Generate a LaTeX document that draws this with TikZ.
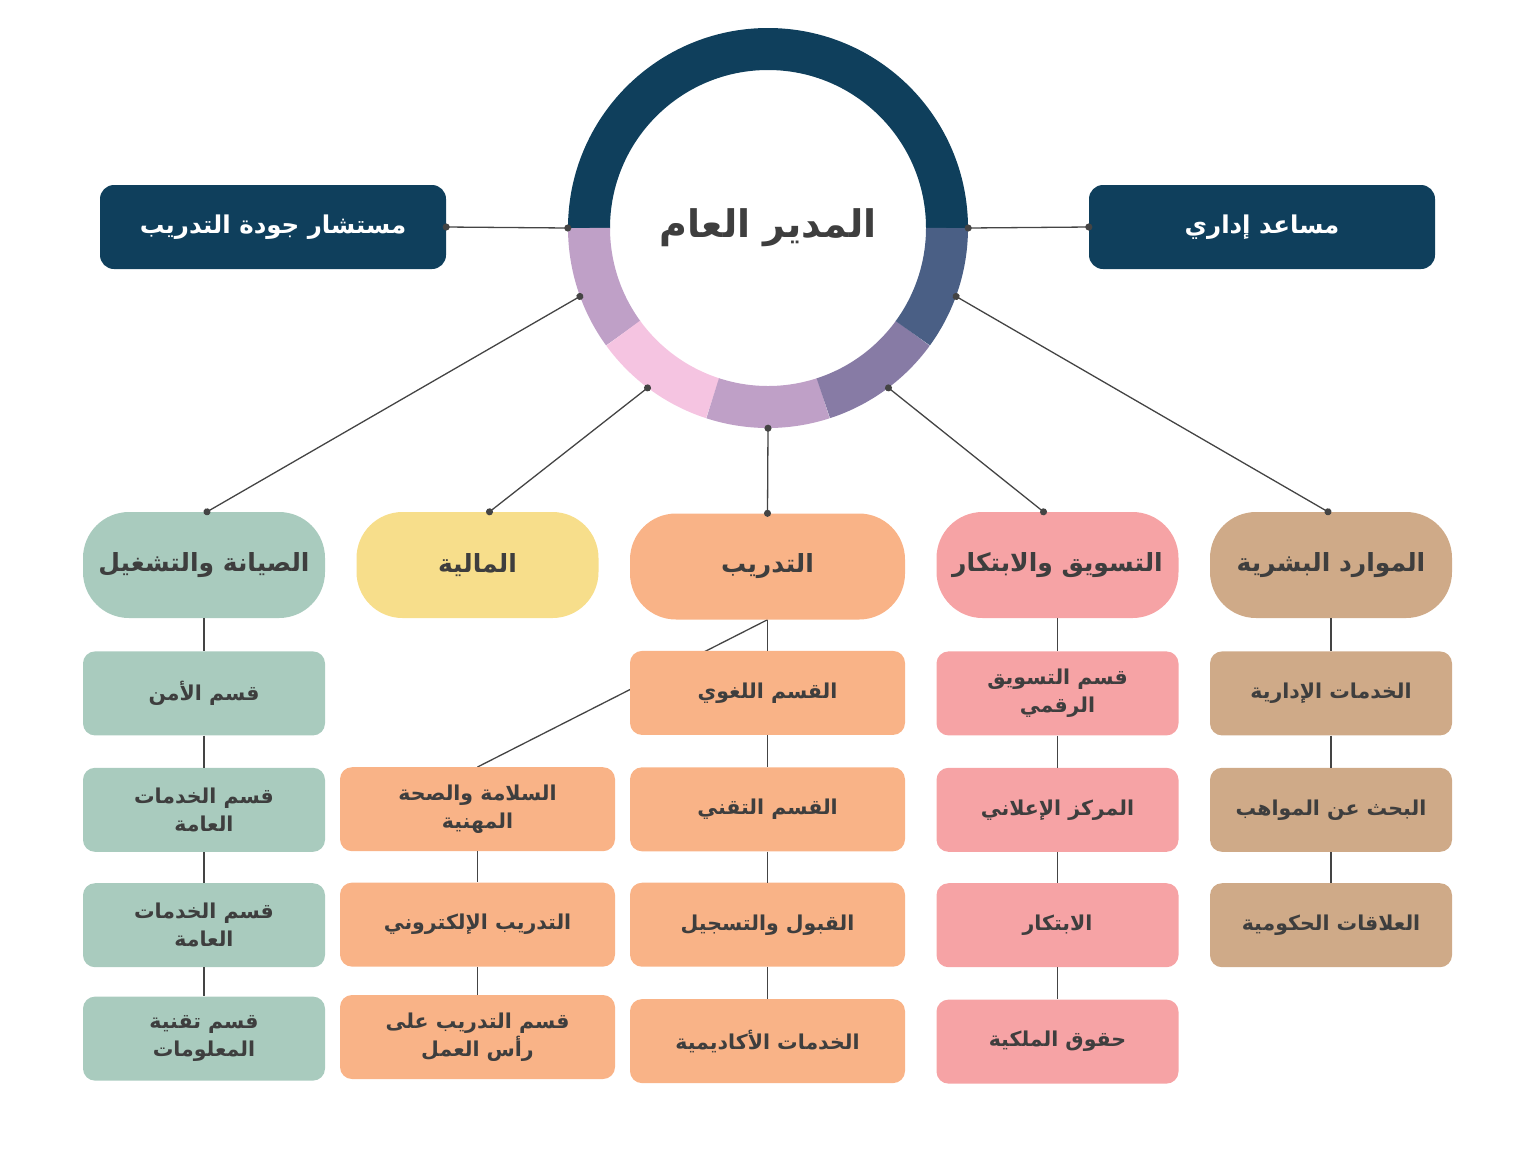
\documentclass[tikz,border=0pt]{standalone}
\usepackage{fontspec}
\newfontfamily\arabicfont[Script=Arabic]{DejaVu Sans}
\TeXXeTstate=1
\usetikzlibrary{arrows.meta, positioning, backgrounds}

\definecolor{navy}{HTML}{0F3F5C}
\definecolor{slate}{HTML}{4A5F85}
\definecolor{mpurple}{HTML}{877BA5}
\definecolor{lpurple}{HTML}{BFA0C7}
\definecolor{pinkseg}{HTML}{F5C4E1}
\definecolor{sage}{HTML}{A9CBBE}
\definecolor{sand}{HTML}{F7DE8B}
\definecolor{peach}{HTML}{F9B387}
\definecolor{rose}{HTML}{F6A3A5}
\definecolor{tan}{HTML}{CFAA88}
\definecolor{txtgray}{HTML}{3E3E3E}
\definecolor{linegray}{HTML}{444444}

\newcommand{\artx}[1]{\beginR #1\endR}

\begin{document}
\begin{tikzpicture}[
    x=1pt, y=1pt,
    font=\arabicfont\bfseries,
    topbox/.style={
      fill=navy, text=white, rounded corners=14pt,
      minimum width=346pt, minimum height=84pt,
      font=\arabicfont\bfseries\fontsize{24.5}{30}\selectfont
    },
    head/.style={
      rounded corners=46pt, text=txtgray,
      minimum width=242pt, minimum height=106pt,
      font=\arabicfont\bfseries\fontsize{25}{30}\selectfont
    },
    sub/.style={
      rounded corners=12pt, text=txtgray, align=center,
      minimum width=242pt, minimum height=84pt, inner sep=2pt,
      font=\arabicfont\bfseries\fontsize{20.5}{28}\selectfont
    },
    link/.style={draw=linegray, line width=1.3pt},
    dotlink/.style={link, {Circle[length=7pt]}-{Circle[length=7pt]},
      shorten <=-3.5pt, shorten >=-3.5pt}
  ]
  \useasboundingbox (0,0) rectangle (1536,-1152);

  % ===== Director =====
  \node[circle, minimum size=400pt, inner sep=0pt, text=txtgray,
        font=\arabicfont\bfseries\fontsize{38}{42}\selectfont] (boss) at (768,-228) {\artx{المدير العام}};

  \begin{scope}[on background layer]
    \foreach \a/\b/\c in {0/180/navy, 180/216/lpurple, 216/252/pinkseg,
                          252/288/lpurple, 288/324/mpurple, 324/360/slate}
      \draw[\c, line width=42pt] ([shift={(\a:179)}]boss.center)
        arc[start angle=\a, end angle=\b, radius=179];
  \end{scope}

  \node[topbox] (adv)  at (273,-227)  {\artx{مستشار جودة التدريب}};
  \node[topbox] (asst) at (1262,-227) {\artx{مساعد إداري}};

  % ===== Departments =====
  \node[head, fill=sage] (mnt) at (204,-565)   {\artx{الصيانة والتشغيل}};
  \node[head, fill=sand] (fin) at (477.5,-565) {\artx{المالية}};
  \node[head, fill=peach, minimum width=275pt] (trn) at (767.5,-566.5) {\artx{التدريب}};
  \node[head, fill=rose] (mkt) at (1057.5,-565) {\artx{التسويق والابتكار}};
  \node[head, fill=tan]  (hr)  at (1331,-565)   {\artx{الموارد البشرية}};

  % ===== Maintenance =====
  \node[sub, fill=sage, below=33pt of mnt]  (mnt1) {\artx{قسم الأمن}};
  \node[sub, fill=sage, below=32pt of mnt1] (mnt2) {\artx{قسم الخدمات}\\\artx{العامة}};
  \node[sub, fill=sage, below=31pt of mnt2] (mnt3) {\artx{قسم الخدمات}\\\artx{العامة}};
  \node[sub, fill=sage, below=29pt of mnt3] (mnt4) {\artx{قسم تقنية}\\\artx{المعلومات}};

  % ===== Training =====
  \node[sub, fill=peach, minimum width=275pt, below=31pt of trn]  (trn1) {\artx{القسم اللغوي}};
  \node[sub, fill=peach, minimum width=275pt, below=32pt of trn1] (trn2) {\artx{القسم التقني}};
  \node[sub, fill=peach, minimum width=275pt, below=31pt of trn2] (trn3) {\artx{القبول والتسجيل}};
  \node[sub, fill=peach, minimum width=275pt, below=32pt of trn3] (trn4) {\artx{الخدمات الأكاديمية}};

  \node[sub, fill=peach, minimum width=275pt, anchor=north] (safe) at (477.5,-767) {\artx{السلامة والصحة}\\\artx{المهنية}};
  \node[sub, fill=peach, minimum width=275pt, below=31pt of safe] (elrn) {\artx{التدريب الإلكتروني}};
  \node[sub, fill=peach, minimum width=275pt, below=28pt of elrn] (ojt)  {\artx{قسم التدريب على}\\\artx{رأس العمل}};

  % ===== Marketing =====
  \node[sub, fill=rose, below=33pt of mkt]  (mkt1) {\artx{قسم التسويق}\\\artx{الرقمي}};
  \node[sub, fill=rose, below=32pt of mkt1] (mkt2) {\artx{المركز الإعلاني}};
  \node[sub, fill=rose, below=31pt of mkt2] (mkt3) {\artx{الابتكار}};
  \node[sub, fill=rose, below=32pt of mkt3] (mkt4) {\artx{حقوق الملكية}};

  % ===== HR =====
  \node[sub, fill=tan, below=33pt of hr]  (hr1) {\artx{الخدمات الإدارية}};
  \node[sub, fill=tan, below=32pt of hr1] (hr2) {\artx{البحث عن المواهب}};
  \node[sub, fill=tan, below=31pt of hr2] (hr3) {\artx{العلاقات الحكومية}};

  % Connections
  \begin{scope}[on background layer]
    \draw[link] (trn.south) -- (safe.north);
  \end{scope}
  \draw[dotlink] (boss.180) -- (adv.east);
  \draw[dotlink] (boss.0) -- (asst.west);
  \draw[dotlink] (boss.200) -- ([xshift=3pt]mnt.north);
  \draw[dotlink] (boss.233) -- ([xshift=12pt]fin.north);
  \draw[dotlink] (boss.270) -- (trn.north);
  \draw[dotlink] (boss.307) -- ([xshift=-14pt]mkt.north);
  \draw[dotlink] (boss.340) -- ([xshift=-3pt]hr.north);

  \foreach \p/\q in {mnt/mnt1, mnt1/mnt2, mnt2/mnt3, mnt3/mnt4,
                     trn/trn1, trn1/trn2, trn2/trn3, trn3/trn4,
                     safe/elrn, elrn/ojt,
                     mkt/mkt1, mkt1/mkt2, mkt2/mkt3, mkt3/mkt4,
                     hr/hr1, hr1/hr2, hr2/hr3}
    \draw[link] (\p) -- (\q);
\end{tikzpicture}
\end{document}
